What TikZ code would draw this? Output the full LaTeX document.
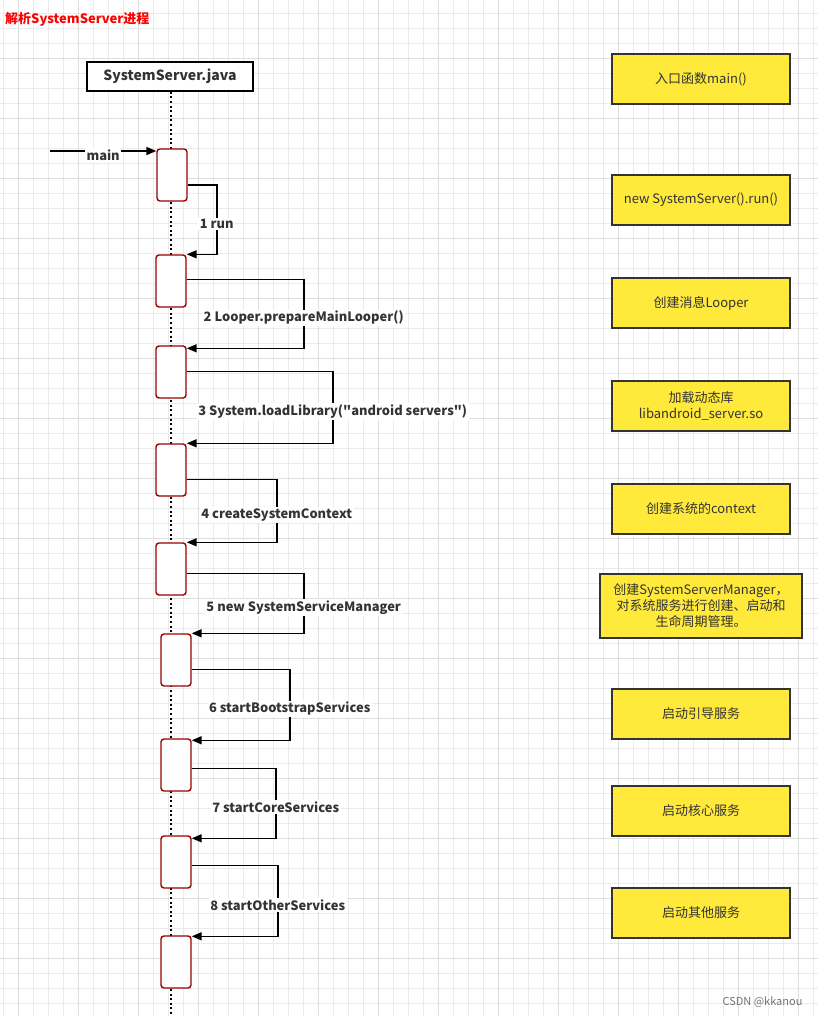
\documentclass[tikz,border=0pt]{standalone}
\usepackage{fontspec}
\setmainfont{Noto Sans CJK SC}
\newfontfamily\callfont{Noto Sans CJK SC}
\usetikzlibrary{arrows.meta}

\definecolor{actred}{HTML}{990000}
\definecolor{noteyellow}{HTML}{FFE93B}
\definecolor{notegray}{HTML}{333333}
\definecolor{textgray}{HTML}{333333}

\begin{document}
\begin{tikzpicture}[x=1pt, y=-1pt,
    gridminor/.style={draw=black!8, line width=0.7pt},
    gridmajor/.style={draw=black!13, line width=0.7pt},
    lifeline/.style={line width=1.9pt, dash pattern=on 2pt off 2.6pt},
    act/.style={draw=actred, fill=white, line width=1.4pt, rounded corners=3pt, minimum width=30pt, minimum height=52pt, inner sep=0pt},
    note/.style={draw=notegray, fill=noteyellow, line width=1.8pt, minimum width=178pt, minimum height=50pt, text=textgray, align=center, font=\fontsize{13}{16}\selectfont},
    call/.style={line width=1.6pt, -{Triangle[length=10pt,width=8pt]}},
    lbl/.style={fill=white, inner sep=1.5pt, text=textgray, yshift=-4pt, font=\callfont\bfseries\fontsize{12.9}{14}\selectfont}]

    \useasboundingbox[fill=white] (0,0) rectangle (818,1016);
    % grid
    \foreach \gx in {3.3,18.3,...,818} \draw[gridminor] (\gx,0) -- (\gx,1016);
    \foreach \gy in {13.3,28.3,...,1016} \draw[gridminor] (0,\gy) -- (818,\gy);
    \foreach \gx in {18.3,78.3,...,818} \draw[gridmajor] (\gx,0) -- (\gx,1016);
    \foreach \gy in {58.3,118.3,...,1016} \draw[gridmajor] (0,\gy) -- (818,\gy);

    \node[anchor=west, text=red, font=\bfseries\fontsize{13}{16}\selectfont, inner sep=0pt] (title) at (5,19) {解析SystemServer进程};

    % lifeline
    \node[draw=black, fill=white, line width=1.8pt, minimum width=166pt, minimum height=29pt, text=textgray, font=\bfseries\fontsize{14}{16}\selectfont] (hdr) at (170,76.5) {SystemServer.java};
    \coordinate (lifeend) at (171,1016);
    \draw[lifeline] (hdr.south -| lifeend) -- (lifeend);

    \node[act] (act1) at (172,175) {};
    \node[act] (act2) at (171,281) {};
    \node[act] (act3) at (171,372) {};
    \node[act] (act4) at (171,470) {};
    \node[act] (act5) at (171,569) {};
    \node[act] (act6) at (176,660) {};
    \node[act] (act7) at (176,765) {};
    \node[act] (act8) at (176,862) {};
    \node[act] (act9) at (176,962) {};

    \coordinate (mainstart) at (50,151);
    \draw[call] (mainstart) -- (act1.west |- mainstart) node[midway, lbl] {main};

    \foreach \a/\b/\dy/\ry/\w/\lab in {act1/act2/37/0/29/1 run,
        act2/act3/25/3/117/2 Looper.prepareMainLooper(),
        act3/act4/26/0/146/3 System.loadLibrary("android servers"),
        act4/act5/36/0/90/4 createSystemContext,
        act5/act6/31/0/117/5 new SystemServiceManager,
        act6/act7/36/2/98/6 startBootstrapServices,
        act7/act8/30/3/84/7 startCoreServices,
        act8/act9/30/1/86/8 startOtherServices}
      \draw[call] ([yshift=-\dy pt]\a.north east) -- ++(\w,0) |- node[pos=0.25, lbl] {\lab} ([yshift=-\ry pt]\b.north east);

    % notes
    \node[note] (note1) at (701,79) {入口函数main()};
    \node[note] (note2) at (701,200) {new SystemServer().run()};
    \node[note] (note3) at (701,303) {创建消息Looper};
    \node[note] (note4) at (701,406) {加载动态库\\libandroid\_server.so};
    \node[note] (note5) at (701,509) {创建系统的context};
    \node[note, minimum width=202pt, minimum height=64pt] (note6) at (701,606) {创建SystemServerManager，\\对系统服务进行创建、启动和\\生命周期管理。};
    \node[note] (note7) at (701,714) {启动引导服务};
    \node[note] (note8) at (701,811) {启动核心服务};
    \node[note] (note9) at (701,913) {启动其他服务};

    \node[anchor=east, text=black!55, font=\fontsize{11}{13}\selectfont] (csdn) at (806,1002) {CSDN @kkanou};
\end{tikzpicture}
\end{document}
